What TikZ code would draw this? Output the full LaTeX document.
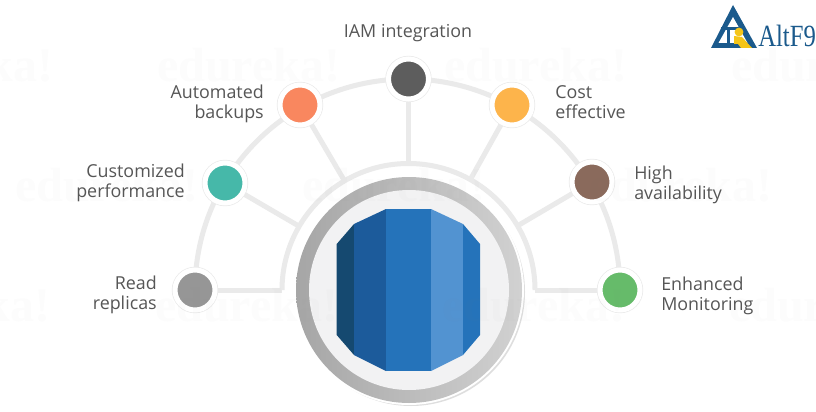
\documentclass[tikz,border=0pt]{standalone}
\usepackage{fontspec}
\setmainfont{Open Sans}
\newfontfamily\logofont{Liberation Serif}
\usetikzlibrary{shadows,backgrounds}
\definecolor{wire}{HTML}{EAEAEA}
\definecolor{labelgray}{HTML}{565656}
\definecolor{logoblue}{HTML}{1B5A8C}
\definecolor{logoyellow}{HTML}{F5C518}
\definecolor{cread}{HTML}{969696}
\definecolor{ccust}{HTML}{46B8A9}
\definecolor{cauto}{HTML}{F9875F}
\definecolor{ciam}{HTML}{5D5D5D}
\definecolor{ccost}{HTML}{FDB44B}
\definecolor{chigh}{HTML}{8A6A5C}
\definecolor{cenh}{HTML}{66BB6A}
\definecolor{discin}{HTML}{F2F2F3}
\definecolor{colA}{HTML}{154970}
\definecolor{colB}{HTML}{1C5B9B}
\definecolor{colC}{HTML}{2573BA}
\definecolor{colD}{HTML}{5293D1}
\tikzset{
  x=0.75pt,y=0.75pt,
  feature/.style={circle,fill=#1,draw=white,line width=3.75pt,minimum size=30pt,inner sep=0pt,
    preaction={draw=wire,line width=4.8pt},
    drop shadow={shadow xshift=0.8pt,shadow yshift=-1pt,opacity=.22,fill=black}},
  wireline/.style={draw=wire,line width=3.75pt},
  lbl/.style={font=\fontsize{13.4pt}{15pt}\selectfont,text=labelgray,inner sep=0pt},
  lblr/.style={lbl,align=right,anchor=east},
  lbll/.style={lbl,align=left,anchor=west},
  mark text/.style={font=\logofont\bfseries\fontsize{36pt}{36pt}\selectfont,text=gray,opacity=.022,anchor=west,inner sep=0pt},
}
\begin{document}
\begin{tikzpicture}
\useasboundingbox (0,0) rectangle (816,411);
% hub (y is measured upward: y = 411 - image y)
\coordinate (c) at (408.5,121);
\node[circle,minimum size=189.75pt,inner sep=0pt] (hub) at (c) {};
% feature circles
\node[feature=cread] (read) at (195,121) {};
\node[feature=ccust] (cust) at (225,228) {};
\node[feature=cauto] (auto) at (300,306) {};
\node[feature=ciam] (iam) at (408.5,332) {};
\node[feature=ccost] (cost) at (512,306) {};
\node[feature=chigh] (high) at (592,229) {};
\node[feature=cenh] (enh) at (620,121) {};
% connectors behind
\begin{scope}[on background layer]
  \fill[white] (0,0) rectangle (816,411);
  \draw[wireline] (195,121) arc[start angle=180,end angle=0,x radius=212.5,y radius=211];
  \draw[wireline] (282,121) arc[start angle=180,end angle=0,radius=126.5];
  \foreach \n in {read,cust,auto,iam,cost,high,enh}
    \draw[wireline] (\n) -- (hub);
\end{scope}
% central disc
\fill[black!25,opacity=.5] (411,119) circle[radius=114];
\fill[white] (409,121) circle[radius=115];
\shade[left color=black!35,right color=black!18] (409,121) circle[radius=113];
\fill[discin] (409,121) circle[radius=100];
% octagon columns
\fill[colA] (354,187) -- (336.7,167) -- (336.7,76) -- (354,56) -- cycle;
\fill[colB] (354,187) -- (386,202) -- (386,40) -- (354,56) -- cycle;
\fill[colC] (386,202) -- (431,202) -- (431,40) -- (386,40) -- cycle;
\fill[colD] (431,202) -- (463,187) -- (463,56) -- (431,40) -- cycle;
\fill[colC] (463,187) -- (480,167) -- (480,76) -- (463,56) -- cycle;
% labels
\node[lbl] (tiam) at (408,378) {IAM integration};
\node[lblr] (tauto) at (264,307.5) {Automated\\backups};
\node[lblr] (tcust) at (185,228.5) {Customized\\performance};
\node[lblr] (tread) at (157,116) {Read\\replicas};
\node[lbll] (tcost) at (555,309) {Cost\\effective};
\node[lbll] (thigh) at (634,226) {High\\availability};
\node[lbll] (tenh) at (661,115) {Enhanced\\Monitoring};
% logo
\fill[logoblue] (733,406) -- (757,363) -- (711,363) -- cycle;
\fill[white] (733,394) -- (747.5,368) -- (718.5,368) -- cycle;
\fill[logoblue] (721,384) rectangle (745,381);
\fill[logoblue] (727,382) rectangle (729.5,366);
\fill[logoyellow] (739,379) circle[radius=4.4];
\fill[logoyellow] (734,375) -- (742,374) -- (752,363) -- (741,363) -- (738,367) -- (734,367) -- cycle;
\node[font=\logofont\fontsize{18.5pt}{18.5pt}\selectfont,text=logoblue,anchor=base west,inner sep=0pt,yscale=1.25,transform shape] (alt) at (758,364) {AltF9};
% watermark
\foreach \x/\y in {-130/346,157/346,444/346,731/346,
                   15/226,302/226,589/226,
                   -133/106,155/106,442/106,729/106}
  \node[mark text] at (\x,\y) {edureka!};
\end{tikzpicture}
\end{document}
